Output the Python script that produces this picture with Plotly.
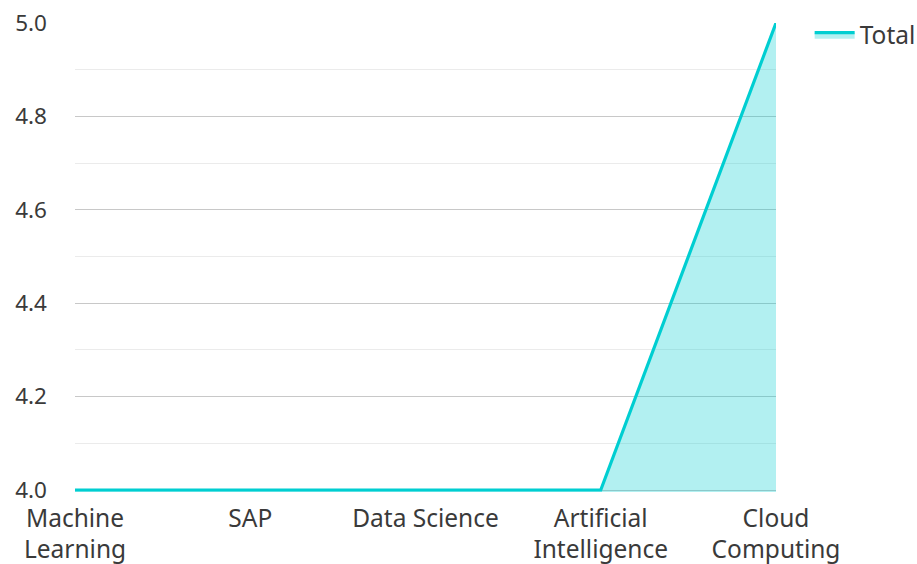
import plotly.graph_objects as go

categories = ["Machine<br>Learning", "SAP", "Data Science", "Artificial<br>Intelligence", "Cloud<br>Computing"]
total = [4, 4, 4, 4, 5]
y_ticks = [4.0, 4.2, 4.4, 4.6, 4.8, 5.0]
y_tick_labels = ["4.0", "4.2", "4.4", "4.6", "4.8", "5.0"]

FONT = "Noto Sans"
LINE = "#00CED1"
TXT = "#3a3a3a"
FS = 24.5

fig = go.Figure()
fig.add_trace(go.Scatter(
    x=categories, y=total, name="Total", mode="lines",
    line=dict(color=LINE, width=3.2),
    fill="tozeroy", fillcolor="rgba(0,206,209,0.3)",
))

fig.update_layout(
    width=917, height=564,
    margin=dict(l=75, r=141, t=23, b=72, autoexpand=False),
    paper_bgcolor="white", plot_bgcolor="white",
    font=dict(family=FONT, size=FS, color=TXT),
    showlegend=True,
    legend=dict(x=1.048, y=1.023, xanchor="left", yanchor="top",
                font=dict(size=FS, color=TXT), bgcolor="rgba(0,0,0,0)",
                itemwidth=40),
    xaxis=dict(range=[0, 4], showgrid=False, zeroline=False, showline=False,
               ticks="", ticklabelstandoff=9, tickfont=dict(size=FS, color=TXT), fixedrange=True),
    yaxis=dict(range=[4 - 2 / 467, 5], tickvals=y_ticks, ticktext=y_tick_labels,
               showgrid=True, gridcolor="#c8c8c8", gridwidth=1.3,
               zeroline=False, showline=False, ticks="", ticklabelstandoff=27,
               ticklabeloverflow="allow", fixedrange=True,
               tickfont=dict(size=22.5, color=TXT),
               minor=dict(dtick=0.1, showgrid=True, gridcolor="#ebebeb", gridwidth=1.3, tick0=4)),
)

fig.write_html("out.html", config={"displayModeBar": False},
               post_script="document.body.style.margin='0';document.body.style.overflow='hidden';")
